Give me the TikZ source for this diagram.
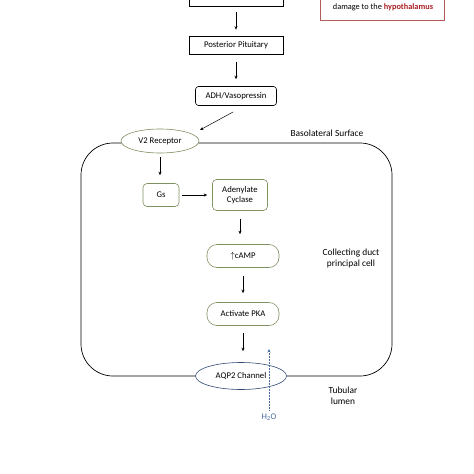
\documentclass[tikz,border=0pt]{standalone}
\usepackage{fontspec}
\setmainfont{Carlito}
\usetikzlibrary{arrows.meta,shapes.geometric}
\definecolor{olivebd}{RGB}{128,145,98}
\definecolor{navybd}{RGB}{50,75,120}
\definecolor{darkred}{RGB}{170,30,35}
\definecolor{redbd}{RGB}{180,90,90}
\definecolor{waterblue}{RGB}{70,105,160}
\tikzset{
  every node/.style={font=\fontsize{8.7}{10}\selectfont},
  label text/.style={font=\fontsize{9.4}{11}\selectfont,align=center},
  stepbox/.style={draw,rectangle,line width=0.6pt,minimum width=94,minimum height=18,inner sep=1pt},
  hormone/.style={draw,rectangle,rounded corners=3,line width=0.6pt,minimum width=81,minimum height=19,inner sep=1pt},
  greenbox/.style={draw=olivebd,rectangle,rounded corners=4,line width=0.6pt,inner sep=1pt,align=center},
  pill/.style={draw=olivebd,rectangle,rounded corners=10,line width=0.6pt,minimum width=72,minimum height=23,inner sep=1pt},
  receptor/.style={draw=olivebd,ellipse,fill=white,line width=0.6pt,minimum width=78,minimum height=24,inner sep=0pt},
  channel/.style={draw=navybd,ellipse,fill=white,line width=0.6pt,minimum width=91,minimum height=27,inner sep=0pt},
  flow/.style={-{Stealth[length=3.5pt,width=3pt]},line width=0.5pt},
  cell/.style={line width=0.7pt,rounded corners=32},
}
\begin{document}
\begin{tikzpicture}[x=1pt,y=-1pt]
  \useasboundingbox (0,0) rectangle (474,474);
  \clip (0,0) rectangle (474,474);
  % cell outline
  \draw[cell] (81,143) rectangle (392,376);
  % top of the cascade
  \node[stepbox] (hypo) at (236,-3) {};
  \node[draw=redbd,rectangle,line width=0.6pt,minimum width=124,minimum height=44,inner sep=1pt] (note) at (382,-2) {};
  \node[font=\fontsize{8.3}{9.5}\selectfont] (damage) at (383,7) {damage to the \textcolor{darkred}{\textbf{hypothalamus}}};
  \node[stepbox] (pp) at (236,45) {Posterior Pituitary};
  \node[hormone] (adh) at (236,96) {ADH/Vasopressin};
  \node[receptor] (v2) at (160,141) {V2 Receptor};
  \node[label text] (baso) at (327,133) {Basolateral Surface};
  % inside the cell
  \node[greenbox,minimum width=36,minimum height=23] (gs) at (161,195) {Gs};
  \node[greenbox,minimum width=55,minimum height=31] (ac) at (240,195) {Adenylate\\Cyclase};
  \node[pill] (camp) at (243,256) {$\uparrow$cAMP};
  \node[pill] (pka) at (243,314) {Activate PKA};
  \node[label text] (cell) at (351,258) {Collecting duct\\principal cell};
  \node[channel] (aqp) at (241,376) {AQP2 Channel};
  \node[label text] (lumen) at (343,396) {Tubular\\lumen};
  \node[text=waterblue] (water) at (269,417) {H\textsubscript{2}O};
  \coordinate (adhout) at (233,112);
  \coordinate (v2in) at (200,130);
  \coordinate (h2oin) at (269,349);
  % arrows
  \draw[flow,shorten <=6,shorten >=6] (hypo) -- (pp);
  \draw[flow,shorten <=8,shorten >=7] (pp) -- (adh);
  \draw[flow] (adhout) -- (v2in);
  \draw[flow,shorten <=4,shorten >=8] (v2) -- (v2 |- gs.north);
  \draw[flow,shorten <=3,shorten >=5] (gs) -- (ac);
  \draw[flow,shorten <=8,shorten >=10] (ac) -- (ac |- camp.north);
  \draw[flow,shorten <=8,shorten >=9] (camp) -- (pka);
  \draw[flow,shorten <=7,shorten >=11] (pka) -- (pka |- aqp.north);
  \draw[flow,waterblue,densely dotted] (water) -- (h2oin);
\end{tikzpicture}
\end{document}
